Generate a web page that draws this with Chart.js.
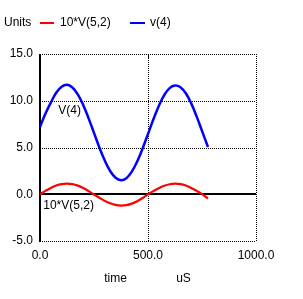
<!DOCTYPE html>
<html>
<head>
<meta charset="utf-8">
<script src="https://cdn.jsdelivr.net/npm/chart.js@4/dist/chart.umd.min.js"></script>
<style>
  html, body { margin: 0; padding: 0; background: #fff; }
  #plot { display: block; }
</style>
</head>
<body>
<canvas id="plot" width="303" height="299"></canvas>
<script>
// time axis (uS) and the two traces
const times = [0, 25, 50, 75, 100, 125, 150, 175, 200, 225, 250, 275, 300, 325, 350, 375,
    400, 425, 450, 475, 500, 525, 550, 575, 600, 625, 650, 675, 700, 725, 750, 775, 778];
const v4 = [7.2, 8.6, 9.8, 10.85, 11.5, 11.7, 11.42, 10.68, 9.55, 8.12, 6.56, 5.0, 3.6, 2.48, 1.76, 1.5,
    1.72, 2.42, 3.5, 4.9, 6.45, 8.02, 9.45, 10.6, 11.35, 11.62, 11.45, 10.8, 9.72, 8.33, 6.78, 5.22, 5.05];
const v52x10 = [0, 0.36, 0.68, 0.93, 1.09, 1.13, 1.08, 0.92, 0.66, 0.33, -0.03, -0.38, -0.71, -0.97, -1.14, -1.21,
    -1.16, -1.0, -0.74, -0.4, -0.02, 0.33, 0.65, 0.9, 1.07, 1.13, 1.08, 0.93, 0.68, 0.36, 0.01, -0.4, -0.45];
const seriesNames = ['10*V(5,2)', 'v(4)'];
const traceLabels = ['10*V(5,2)', 'V(4)'];
const xTicks = [0, 500, 1000];
const yTicks = [-5, 0, 5, 10, 15];
const axisTitles = ['time', 'uS'];
const legendTitle = 'Units';

const FONT = '12px "Liberation Sans", Arial, sans-serif';
const RED = '#ff0000';
const BLUE = '#0000ff';

const toPoints = ys => times.map((t, i) => ({ x: t, y: ys[i] }));

// grid: dotted lines, solid zero line and left axis
const gridPlugin = {
    id: 'grid',
    beforeDatasetsDraw(chart) {
        const { ctx, chartArea: a, scales: { x, y } } = chart;
        ctx.save();
        ctx.strokeStyle = '#000';
        ctx.lineWidth = 1;
        ctx.setLineDash([1, 1]);
        yTicks.forEach(v => {
            if (v === 0) return;
            const py = Math.round(y.getPixelForValue(v)) + 0.5;
            ctx.beginPath();
            ctx.moveTo(a.left, py);
            ctx.lineTo(a.right, py);
            ctx.stroke();
        });
        xTicks.forEach(v => {
            if (v === 0) return;
            const px = Math.round(x.getPixelForValue(v)) + 0.5;
            ctx.beginPath();
            ctx.moveTo(px, a.top);
            ctx.lineTo(px, a.bottom);
            ctx.stroke();
        });
        ctx.setLineDash([]);
        // small tick at the top of the middle line
        const pm = Math.round(x.getPixelForValue(500)) + 0.5;
        ctx.beginPath();
        ctx.moveTo(pm, a.top);
        ctx.lineTo(pm, a.top + 4);
        ctx.stroke();

        ctx.lineWidth = 2;
        const py0 = Math.round(y.getPixelForValue(0));
        ctx.beginPath();
        ctx.moveTo(a.left, py0);
        ctx.lineTo(a.right, py0);
        ctx.stroke();
        const px0 = Math.round(x.getPixelForValue(0));
        ctx.beginPath();
        ctx.moveTo(px0, a.top);
        ctx.lineTo(px0, a.bottom + 1);
        ctx.stroke();
        ctx.restore();
    },
    afterDraw(chart) {
        const { ctx, scales: { x, y } } = chart;
        ctx.save();
        ctx.font = FONT;
        ctx.fillStyle = '#000';
        ctx.textBaseline = 'middle';
        ctx.textAlign = 'left';

        // legend row
        ctx.fillText(legendTitle, 4, 23);
        ctx.lineWidth = 2;
        ctx.strokeStyle = RED;
        ctx.beginPath(); ctx.moveTo(40, 23); ctx.lineTo(54, 23); ctx.stroke();
        ctx.fillText(seriesNames[0], 60, 23);
        ctx.strokeStyle = BLUE;
        ctx.beginPath(); ctx.moveTo(130, 23); ctx.lineTo(145, 23); ctx.stroke();
        ctx.fillText(seriesNames[1], 150, 23);

        // trace labels inside the plot
        ctx.fillText(traceLabels[1], x.getPixelForValue(85), y.getPixelForValue(8.96));
        ctx.fillText(traceLabels[0], x.getPixelForValue(15), y.getPixelForValue(-1.26));

        // axis titles
        ctx.textAlign = 'center';
        ctx.fillText(axisTitles[0], 115.5, 278.5);
        ctx.fillText(axisTitles[1], 183.5, 278.5);
        ctx.restore();
    }
};

new Chart(document.getElementById('plot'), {
    type: 'line',
    data: {
        datasets: [
            { label: seriesNames[1], data: toPoints(v4), borderColor: BLUE, borderWidth: 2.5 },
            { label: seriesNames[0], data: toPoints(v52x10), borderColor: RED, borderWidth: 2.2 }
        ]
    },
    options: {
        responsive: false,
        animation: false,
        devicePixelRatio: 1,
        layout: { padding: { top: 54, right: 47, left: 0, bottom: 0 } },
        elements: {
            point: { radius: 0 },
            line: { tension: 0.4, fill: false, borderCapStyle: 'butt' }
        },
        plugins: { legend: { display: false }, tooltip: { enabled: false } },
        scales: {
            x: {
                type: 'linear', min: 0, max: 1000,
                afterFit: s => { s.height = 58; },
                afterBuildTicks: s => { s.ticks = xTicks.map(v => ({ value: v })); },
                grid: { display: false, drawTicks: false },
                border: { display: false },
                ticks: {
                    padding: 7, color: '#000', maxRotation: 0,
                    font: { family: '"Liberation Sans", Arial, sans-serif', size: 12 },
                    callback: v => v.toFixed(1)
                }
            },
            y: {
                type: 'linear', min: -5, max: 15,
                afterFit: s => { s.width = 40; },
                afterBuildTicks: s => { s.ticks = yTicks.map(v => ({ value: v })); },
                grid: { display: false, drawTicks: false },
                border: { display: false },
                ticks: {
                    padding: 7, color: '#000',
                    font: { family: '"Liberation Sans", Arial, sans-serif', size: 12 },
                    callback: v => v.toFixed(1)
                }
            }
        }
    },
    plugins: [gridPlugin]
});
</script>
</body>
</html>
